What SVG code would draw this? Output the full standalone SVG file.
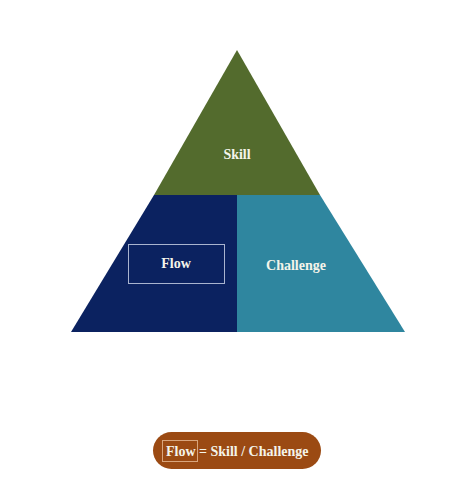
<svg xmlns="http://www.w3.org/2000/svg" width="474" height="494" viewBox="0 0 474 494">
  <style>
    .lbl { font-family: "Liberation Serif", "Times New Roman", serif; font-weight: bold; font-size: 14px; fill: #f4f4ea; }
    .frame { fill: none; stroke: #a9b4cf; stroke-width: 1; }
  </style>
  <rect x="0" y="0" width="474" height="494" fill="#ffffff"/>
  <g id="skill">
    <polygon points="237,50 320,195 154,195" fill="#536b2d"/>
    <text class="lbl" x="237" y="159" text-anchor="middle">Skill</text>
  </g>
  <g id="flow">
    <polygon points="154,195 237,195 237,332 71,332" fill="#0b2260"/>
    <rect class="frame" x="128.5" y="244.5" width="96" height="39"/>
    <text class="lbl" x="176" y="268" text-anchor="middle">Flow</text>
  </g>
  <g id="challenge">
    <polygon points="237,195 320,195 405,332 237,332" fill="#2f869f"/>
    <text class="lbl" x="296" y="270" text-anchor="middle">Challenge</text>
  </g>
  <g id="formula">
    <rect x="153" y="432" width="168" height="37" rx="18.5" fill="#9b4a13"/>
    <rect x="162.5" y="440.5" width="35" height="21" fill="none" stroke="#d9a57c" stroke-width="1"/>
    <text class="lbl" x="166" y="456">Flow</text>
    <text class="lbl" x="199" y="456">= Skill / Challenge</text>
  </g>
  <g id="connectors"/>
</svg>
